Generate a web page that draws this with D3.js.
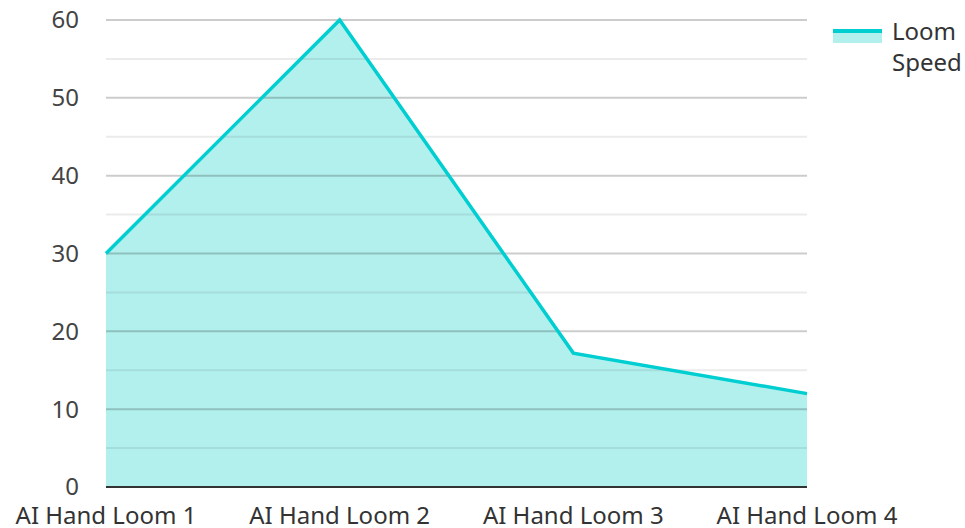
<!DOCTYPE html>
<html>
<head>
<meta charset="utf-8">
<script src="https://cdn.jsdelivr.net/npm/d3@7"></script>
<style>
  body { margin: 0; background: #fff; }
  text { font-family: "Noto Sans", "Open Sans", sans-serif; }
</style>
</head>
<body>
<svg id="chart"></svg>
<script>
var categories = ["AI Hand Loom 1", "AI Hand Loom 2", "AI Hand Loom 3", "AI Hand Loom 4"];
var speedValues = [30, 60, 17.2, 12];
var yTicks = [0, 10, 20, 30, 40, 50, 60];
var minorTicks = [5, 15, 25, 35, 45, 55];
var seriesName = ["Loom", "Speed"];

var width = 965, height = 528;
var margin = {left: 106, right: 158, top: 20, bottom: 41};

var svg = d3.select("#chart")
  .attr("width", width)
  .attr("height", height);

var x = d3.scalePoint()
  .domain(categories)
  .range([margin.left, width - margin.right]);

var y = d3.scaleLinear()
  .domain([0, 60])
  .range([height - margin.bottom, margin.top]);

var data = categories.map(function (c, i) {
  return {cat: c, value: speedValues[i]};
});

// area under the line
svg.append("path")
  .datum(data)
  .attr("fill", "#b2f0ee")
  .attr("d", d3.area()
    .x(function (d) { return x(d.cat); })
    .y0(y(0))
    .y1(function (d) { return y(d.value); }));

// grid (drawn over the fill, semi transparent)
svg.append("g")
  .selectAll("line")
  .data(minorTicks)
  .enter().append("line")
  .attr("x1", margin.left)
  .attr("x2", width - margin.right)
  .attr("y1", function (d) { return y(d); })
  .attr("y2", function (d) { return y(d); })
  .attr("stroke", "#000")
  .attr("stroke-opacity", 0.08)
  .attr("stroke-width", 2);

svg.append("g")
  .selectAll("line")
  .data(yTicks.slice(1))
  .enter().append("line")
  .attr("x1", margin.left)
  .attr("x2", width - margin.right)
  .attr("y1", function (d) { return y(d); })
  .attr("y2", function (d) { return y(d); })
  .attr("stroke", "#000")
  .attr("stroke-opacity", 0.2)
  .attr("stroke-width", 2);

// line
svg.append("path")
  .datum(data)
  .attr("fill", "none")
  .attr("stroke", "#00ced1")
  .attr("stroke-width", 3.5)
  .attr("d", d3.line()
    .x(function (d) { return x(d.cat); })
    .y(function (d) { return y(d.value); }));

// x axis baseline
svg.append("line")
  .attr("x1", margin.left)
  .attr("x2", width - margin.right)
  .attr("y1", y(0))
  .attr("y2", y(0))
  .attr("stroke", "#333")
  .attr("stroke-width", 2);

// y tick labels
svg.append("g")
  .selectAll("text")
  .data(yTicks)
  .enter().append("text")
  .attr("x", 79)
  .attr("y", function (d) { return y(d); })
  .attr("dy", "0.35em")
  .attr("text-anchor", "end")
  .attr("font-size", 24)
  .attr("fill", "#444")
  .text(function (d) { return d; });

// x labels
svg.append("g")
  .selectAll("text")
  .data(categories)
  .enter().append("text")
  .attr("x", function (d) { return x(d); })
  .attr("y", 524)
  .attr("text-anchor", "middle")
  .attr("font-size", 24)
  .attr("fill", "#333")
  .text(function (d) { return d; });

// legend
var legend = svg.append("g").attr("transform", "translate(833,0)");
legend.append("rect")
  .attr("x", 0).attr("y", 31)
  .attr("width", 49).attr("height", 12)
  .attr("fill", "#b2f0ee");
legend.append("line")
  .attr("x1", 0).attr("x2", 49)
  .attr("y1", 31).attr("y2", 31)
  .attr("stroke", "#00ced1")
  .attr("stroke-width", 4);
legend.selectAll("text.lbl")
  .data(seriesName)
  .enter().append("text")
  .attr("class", "lbl")
  .attr("x", 59)
  .attr("y", function (d, i) { return 32 + i * 31; })
  .attr("dy", "0.35em")
  .attr("font-size", 24)
  .attr("fill", "#333")
  .text(function (d) { return d; });
</script>
</body>
</html>
